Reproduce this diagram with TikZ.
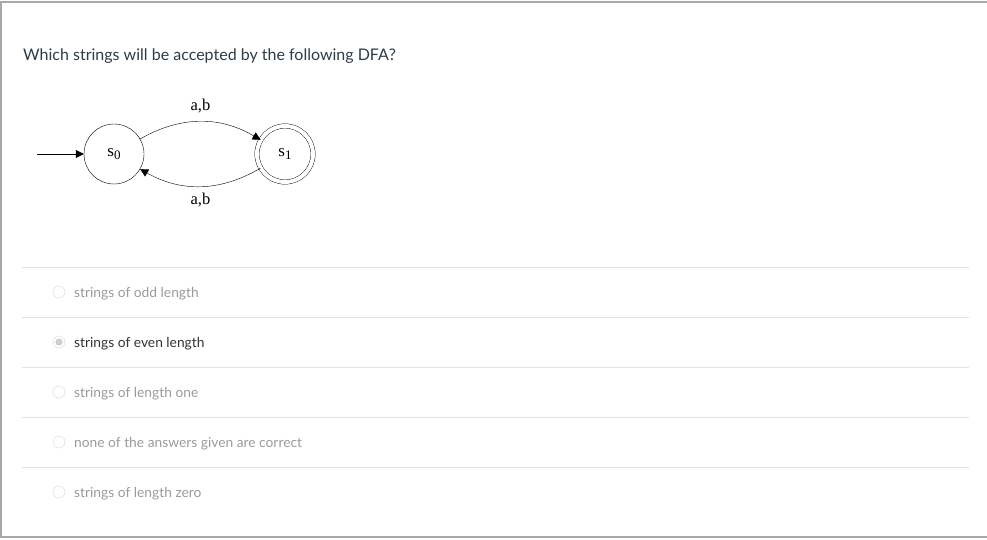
\documentclass[tikz,border=0pt]{standalone}
\usepackage{fontspec}
\setmainfont{Lato}
\newfontfamily\dfafont{Liberation Serif}
\usetikzlibrary{arrows.meta}
\definecolor{framegray}{HTML}{A8A8A8}
\definecolor{sepgray}{HTML}{E2E2E2}
\definecolor{qtext}{HTML}{2D3B45}
\definecolor{opttext}{HTML}{9A9A9A}
\definecolor{seltext}{HTML}{333333}
\definecolor{radiogray}{HTML}{D6D6D6}
\newcommand{\stname}[1]{s\raisebox{-0.3ex}{\fontsize{13}{13}\selectfont #1}}
\begin{document}
\begin{tikzpicture}[x=1pt,y=-1pt,
  state/.style={circle,draw,thin,minimum size=60pt,inner sep=0pt,font=\dfafont\fontsize{17}{18}\selectfont},
  edgelab/.style={font=\dfafont\fontsize{16.5}{18}\selectfont},
  trans/.style={-{Triangle[length=8pt,width=8pt]},thin},
  opt/.style={anchor=west,font=\fontsize{13.8}{16}\selectfont,text=opttext,inner sep=0pt},
  radio/.style={circle,draw=radiogray,fill=white,minimum size=12pt,inner sep=0pt},
  sep/.style={draw=sepgray,line width=1pt}]
\useasboundingbox (0,0) rectangle (987,540);
% frame
\draw[framegray,line width=1.2pt] (987,2) -- (1,2) -- (1,537) -- (987,537);
% question
\node[anchor=base west,inner sep=0pt,text=qtext,font=\fontsize{16}{18}\selectfont] (q) at (23,61) {Which strings will be accepted by the following DFA?};
% DFA
\node[state] (s0) at (114,154) {\stname{0}};
\node[state,double,double distance=4pt,minimum size=56pt] (s1) at (285,154) {\stname{1}};
\coordinate (init) at (37,154);
\draw[trans] (init) -- (s0);
\draw[trans] (s0) to[bend left=30] node[edgelab,above=5pt] (l1) {a,b} (s1);
\draw[trans] (s1) to[bend left=30] node[edgelab,below=3pt] (l2) {a,b} (s0);
% separators
\foreach \y in {267,317,367,417,467} \draw[sep] (22,\y) -- (969,\y);
% options
\node[radio] (r1) at (59,292) {};
\node[opt] (o1) at (74,293.5) {strings of odd length};
\node[radio,fill=white] (r2) at (59,342) {};
\fill[radiogray!120] (r2.center) circle (3.6pt);
\node[opt,text=seltext] (o2) at (74,343.5) {strings of even length};
\node[radio] (r3) at (59,392) {};
\node[opt] (o3) at (74,393.5) {strings of length one};
\node[radio] (r4) at (59,442) {};
\node[opt] (o4) at (74,443.5) {none of the answers given are correct};
\node[radio] (r5) at (59,492) {};
\node[opt] (o5) at (74,493.5) {strings of length zero};
\end{tikzpicture}
\end{document}
